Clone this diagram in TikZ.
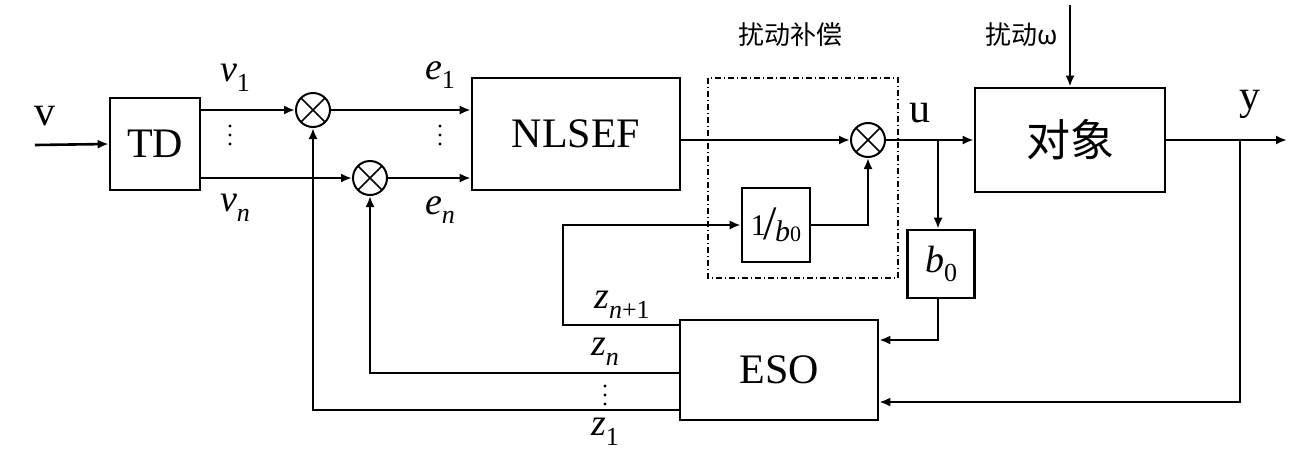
\documentclass[tikz,border=0pt]{standalone}
\usepackage{fontspec}
\setmainfont{Liberation Serif}
\newfontfamily\cjk{Noto Sans CJK SC}
\usetikzlibrary{arrows.meta}
\newcommand{\myvar}[2]{\textit{#1}\raisebox{-0.25em}{\fontsize{26}{28}\selectfont #2}}
\begin{document}
\begin{tikzpicture}[x=1pt,y=-1pt,line width=2.6pt,
 blk/.style={draw,line width=2.6pt,minimum width=#1,inner sep=0pt},
 sumc/.style={draw,circle,line width=2pt,minimum size=34pt,inner sep=0pt,path picture={\draw[line width=1.6pt](path picture bounding box.south west)--(path picture bounding box.north east)(path picture bounding box.north west)--(path picture bounding box.south east);}},
 ar/.style={-{Latex[length=11pt,width=9pt]}},
 lab/.style={font=\fontsize{42}{46}\selectfont},
 mlab/.style={font=\fontsize{38}{40}\selectfont},
 clab/.style={font=\cjk\fontsize{26}{30}\selectfont}]
\useasboundingbox (0,0) rectangle (1305,469);
\node[blk=90pt,minimum height=92pt,lab] (td) at (155,144) {TD};
\node[blk=208pt,minimum height=112pt,lab] (nl) at (576,134) {NLSEF};
\node[blk=190pt,minimum height=104pt,font=\cjk\fontsize{44}{48}\selectfont] (pl) at (1070,140) {对象};
\node[blk=198pt,minimum height=100pt,lab] (eso) at (779,370) {ESO};
\node[blk=68pt,minimum height=74pt] (ib) at (776,225) {\raisebox{0.4em}{\fontsize{30}{30}\selectfont 1}\hspace{-0.2em}{\fontsize{48}{48}\selectfont /}\hspace{-0.2em}\raisebox{-0.2em}{\fontsize{30}{30}\selectfont\textit{b}\fontsize{22}{22}\selectfont 0}};
\node[blk=67pt,minimum height=68pt,mlab] (b0) at (941,264) {\myvar{b}{0}};
\node[sumc] (s1) at (313,110) {};
\node[sumc] (s2) at (370,178) {};
\node[sumc] (s3) at (868,140) {};
\draw[dash pattern=on 6pt off 3pt on 1pt off 3pt,line width=1.2pt] (708,78) rectangle (898,278);
\node[clab] at (790,35) {扰动补偿};
\node[clab] at (1022,35) {扰动\textit{ω}};
\node[lab] at (45,116) {v};
\node[mlab] at (235,78) {\myvar{v}{1}};
\node[mlab] at (235,208) {\myvar{v}{\textit{n}}};
\node[mlab] at (440,75) {\myvar{e}{1}};
\node[mlab] at (440,210) {\myvar{e}{\textit{n}}};
\node[lab] at (920,113) {u};
\node[lab] at (1250,104) {y};
\node[mlab] at (622,305) {\myvar{z}{\textit{n}+1}};
\node[mlab] at (605,352) {\myvar{z}{\textit{n}}};
\node[mlab] at (605,432) {\myvar{z}{1}};
\foreach \x/\y in {230/135,440/135,605/395}{\foreach \d in {-9,0,9}{\fill (\x,\y+\d) circle (1.6pt);}}
\coordinate (vin) at (35,145);
\draw[ar] (vin) -- (td.west);
\draw[ar] (td.east|-s1) -- (s1.west);
\draw[ar] (td.east|-s2) -- (s2.west);
\draw[ar] (s1.east) -- (nl.west|-s1);
\draw[ar] (s2.east) -- (nl.west|-s2);
\draw[ar] (nl.east|-s3) -- (s3.west);
\draw[ar] (ib.east) -| (s3.south);
\draw[ar] (s3.east) -- (pl.west|-s3);
\coordinate (dist) at (1070,5);
\draw[ar] (dist) -- (pl.north);
\coordinate (yout) at (1287,140);
\draw[ar] (pl.east) -- (yout);
\coordinate (yb) at (1240,140);
\draw[ar] (yb) |- (eso.east|-0,402);
\coordinate (ub) at (938,140);
\draw[ar] (ub) -- (ub|-b0.north);
\draw[ar] (ub|-b0.south) |- (eso.east|-0,340);
\coordinate (zn1) at (563,325);
\draw[ar] (eso.west|-zn1) -- (zn1) |- (ib.west);
\coordinate (zn) at (370,373);
\draw[ar] (eso.west|-zn) -- (zn) -- (s2.south);
\coordinate (z1) at (313,410);
\draw[ar] (eso.west|-z1) -- (z1) -- (s1.south);
\end{tikzpicture}
\end{document}
